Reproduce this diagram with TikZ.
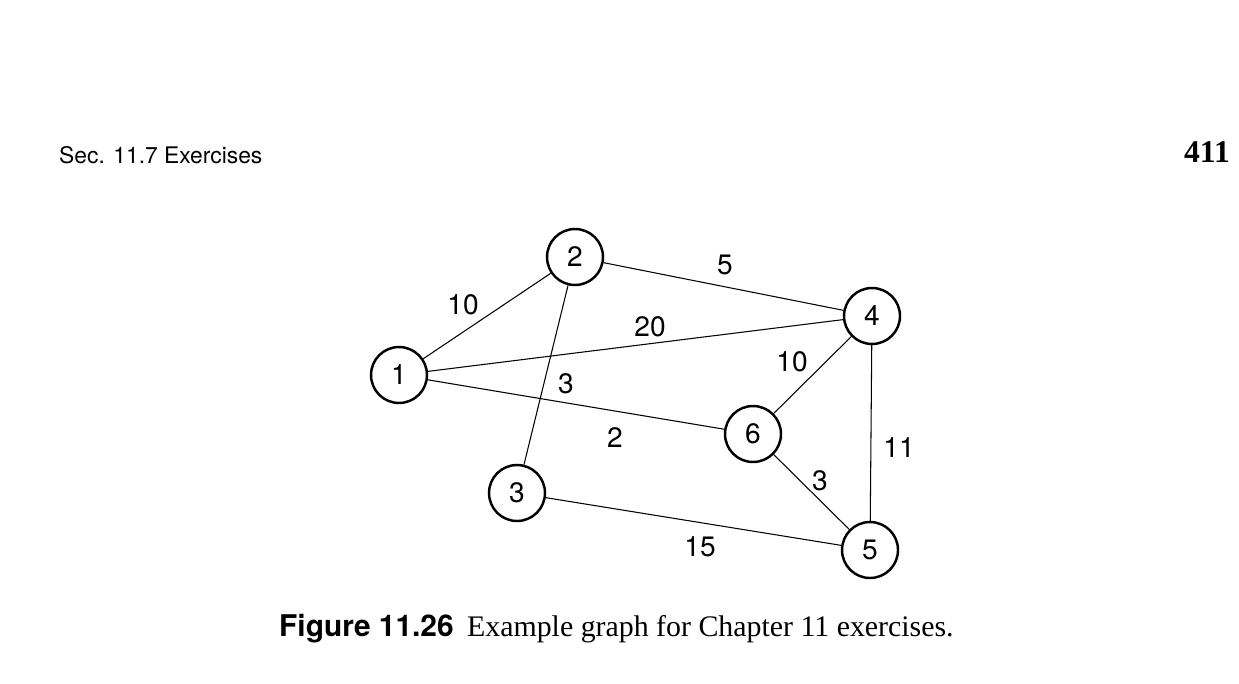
\documentclass[tikz,border=0pt]{standalone}
\usepackage{fontspec}
\setmainfont{Liberation Serif}
\setsansfont{TeX Gyre Heros}
\begin{document}
\begin{tikzpicture}[x=0.02cm,y=-0.02cm,
  vert/.style={circle,draw,line width=1.4pt,minimum size=1.12cm,inner sep=0pt,font=\sffamily\fontsize{16}{16}\selectfont},
  wt/.style={font=\sffamily\fontsize{16}{16}\selectfont},
  edge/.style={line width=0.6pt}]
\useasboundingbox (0,0) rectangle (1239,683);
\node[anchor=west,font=\sffamily\fontsize{13}{13}\selectfont] (hdr) at (53,155) {Sec. 11.7 Exercises};
\node[anchor=east,font=\bfseries\fontsize{18}{18}\selectfont] (pg) at (1236,152) {411};
\node[vert] (n1) at (399,375) {1};
\node[vert] (n2) at (575,257) {2};
\node[vert] (n3) at (517,493) {3};
\node[vert] (n4) at (872,316) {4};
\node[vert] (n6) at (753,434) {6};
\node[vert] (n5) at (870,550) {5};
\draw[edge] (n1)--(n2);
\draw[edge] (n1)--(n4);
\draw[edge] (n1)--(n6);
\draw[edge] (n2)--(n4);
\draw[edge] (n2)--(n3);
\draw[edge] (n4)--(n6);
\draw[edge] (n4)--(n5);
\draw[edge] (n6)--(n5);
\draw[edge] (n3)--(n5);
\node[wt] (w12) at (463,305) {10};
\node[wt] (w24) at (725,265) {5};
\node[wt] (w14) at (650,327) {20};
\node[wt] (w23) at (566,384) {3};
\node[wt] (w46) at (792,362) {10};
\node[wt] (w16) at (615,438) {2};
\node[wt] (w45) at (899,448) {11};
\node[wt] (w65) at (820,481) {3};
\node[wt] (w35) at (700,547) {15};
\node[anchor=west,font=\fontsize{17}{17}\selectfont] (cap) at (273,629) {\textsf{\bfseries Figure 11.26}\hspace{0.45em}Example graph for Chapter 11 exercises.};
\end{tikzpicture}
\end{document}
